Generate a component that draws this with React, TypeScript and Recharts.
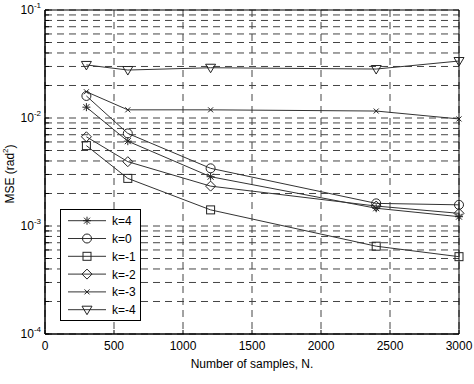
import React from "react";
import {
  LineChart,
  Line,
  XAxis,
  YAxis,
  CartesianGrid,
  Legend,
  ReferenceArea,
} from "recharts";

// sample sizes N
const samples = [300, 600, 1200, 2400, 3000];

// MSE (rad^2) per k
const mseK4 = [0.0126, 0.0061, 0.00286, 0.00146, 0.00122];
const mseK0 = [0.016, 0.0072, 0.00342, 0.00162, 0.00157];
const mseKm1 = [0.00555, 0.00276, 0.00141, 0.00065, 0.00052];
const mseKm2 = [0.0067, 0.00394, 0.00234, 0.00153, 0.00131];
const mseKm3 = [0.0175, 0.0119, 0.0119, 0.0116, 0.0098];
const mseKm4 = [0.031, 0.0278, 0.0292, 0.0284, 0.0337];

const xTicks = [0, 500, 1000, 1500, 2000, 2500, 3000];
const decades = [1e-4, 1e-3, 1e-2];
const mantissas = [1, 2, 3, 4, 5, 6, 7, 8, 9];
const yTicks = [...decades.flatMap((d) => mantissas.map((m) => m * d)), 1e-1];

const series = [
  { key: "k4", name: "k=4", shape: "star", values: mseK4 },
  { key: "k0", name: "k=0", shape: "circle", values: mseK0 },
  { key: "km1", name: "k=-1", shape: "square", values: mseKm1 },
  { key: "km2", name: "k=-2", shape: "diamond", values: mseKm2 },
  { key: "km3", name: "k=-3", shape: "cross", values: mseKm3 },
  { key: "km4", name: "k=-4", shape: "triangle", values: mseKm4 },
];

const rows = samples.map((n, i) => {
  const row: Record<string, number> = { n };
  series.forEach((s) => {
    row[s.key] = s.values[i];
  });
  return row;
});

const FONT = "'Liberation Sans', Arial, Helvetica, sans-serif";
const LINE = "#333";

const Marker = ({ shape, cx, cy }: { shape: string; cx: number; cy: number }) => {
  const p = { fill: "none", stroke: "#222", strokeWidth: 1 };
  switch (shape) {
    case "star":
      return (
        <g {...p}>
          <line x1={cx - 4} y1={cy} x2={cx + 4} y2={cy} />
          <line x1={cx} y1={cy - 4} x2={cx} y2={cy + 4} />
          <line x1={cx - 3} y1={cy - 3} x2={cx + 3} y2={cy + 3} />
          <line x1={cx - 3} y1={cy + 3} x2={cx + 3} y2={cy - 3} />
        </g>
      );
    case "circle":
      return <circle cx={cx} cy={cy} r={4.5} {...p} />;
    case "square":
      return <rect x={cx - 4} y={cy - 4} width={8} height={8} {...p} />;
    case "diamond":
      return (
        <polygon
          points={`${cx},${cy - 5} ${cx + 5},${cy} ${cx},${cy + 5} ${cx - 5},${cy}`}
          {...p}
        />
      );
    case "cross":
      return (
        <g {...p}>
          <line x1={cx - 2.5} y1={cy - 2.5} x2={cx + 2.5} y2={cy + 2.5} />
          <line x1={cx - 2.5} y1={cy + 2.5} x2={cx + 2.5} y2={cy - 2.5} />
        </g>
      );
    default:
      return (
        <polygon
          points={`${cx - 5},${cy - 3.5} ${cx + 5},${cy - 3.5} ${cx},${cy + 5}`}
          {...p}
        />
      );
  }
};

const YTick = (props: any) => {
  const { x, y, payload } = props;
  const lg = Math.log10(payload.value);
  if (Math.abs(lg - Math.round(lg)) > 1e-6) return null;
  return (
    <text x={x} y={y} dy={4} textAnchor="end" fontFamily={FONT} fontSize={12} fill="#000">
      <tspan>10</tspan>
      <tspan dy={-6} fontSize={8}>
        {Math.round(lg)}
      </tspan>
    </text>
  );
};

const YLabel = (props: any) => {
  const vb = props.viewBox || { x: 0, y: 10, height: 324 };
  const cx = 10;
  const cy = vb.y + vb.height / 2 + 2;
  return (
    <text
      x={cx}
      y={cy}
      transform={`rotate(-90, ${cx}, ${cy})`}
      textAnchor="middle"
      dominantBaseline="central"
      fontFamily={FONT}
      fontSize={12}
      fill="#000"
    >
      <tspan>MSE (rad</tspan>
      <tspan dy={-5} fontSize={8}>2</tspan>
      <tspan dy={5}>)</tspan>
    </text>
  );
};

const LegendBox = () => (
  <svg width={81} height={112} style={{ display: "block" }}>
    <rect x={0.5} y={0.5} width={80} height={111} fill="#fff" stroke="#000" />
    {series.map((s, i) => {
      const y = 11.7 + i * 17.8;
      return (
        <g key={s.key}>
          <line x1={8} y1={y} x2={46} y2={y} stroke={LINE} />
          <Marker shape={s.shape} cx={27} cy={y} />
          <text x={52} y={y + 4.5} fontFamily={FONT} fontSize={12} fill="#000">
            {s.name}
          </text>
        </g>
      );
    })}
  </svg>
);

export default function App() {
  return (
    <div style={{ position: "absolute", left: 0, top: 0, background: "#fff" }}>
      <LineChart
        width={474}
        height={384}
        data={rows}
        margin={{ top: 10, right: 15, bottom: 0, left: 0 }}
      >
        <CartesianGrid stroke="#444" strokeDasharray="7 5" />
        <XAxis
          dataKey="n"
          type="number"
          domain={[0, 3000]}
          ticks={xTicks}
          interval={0}
          height={50}
          tickLine={{ stroke: "#000" }}
          tickSize={-4}
          tickMargin={11}
          axisLine={{ stroke: "#000" }}
          tick={{ fontFamily: FONT, fontSize: 12, fill: "#000" }}
          label={{
            value: "Number of samples, N.",
            position: "insideBottom",
            offset: 16,
            fontFamily: FONT,
            fontSize: 12,
            fill: "#000",
          }}
        />
        <XAxis
          xAxisId="top"
          orientation="top"
          dataKey="n"
          type="number"
          domain={[0, 3000]}
          ticks={xTicks}
          interval={0}
          height={0}
          mirror
          tick={false}
          tickLine={{ stroke: "#000" }}
          tickSize={4}
          axisLine={{ stroke: "#000" }}
        />
        <YAxis
          type="number"
          scale="log"
          domain={[1e-4, 1e-1]}
          allowDataOverflow
          ticks={yTicks}
          interval={0}
          width={45}
          tickLine={{ stroke: "#000" }}
          tickSize={-4}
          tickMargin={8}
          axisLine={{ stroke: "#000" }}
          tick={<YTick />}
          label={<YLabel />}
        />
        <YAxis
          yAxisId="right"
          orientation="right"
          type="number"
          scale="log"
          domain={[1e-4, 1e-1]}
          allowDataOverflow
          ticks={yTicks}
          interval={0}
          width={0}
          mirror
          tick={false}
          tickLine={{ stroke: "#000" }}
          tickSize={4}
          axisLine={{ stroke: "#000" }}
        />
        <ReferenceArea
          x1={0}
          x2={3000}
          y1={1e-4}
          y2={1e-1}
          fill="none"
          stroke="#000"
          ifOverflow="visible"
        />
        {series.map((s) => (
          <Line
            key={s.key}
            dataKey={s.key}
            name={s.name}
            type="linear"
            stroke={LINE}
            strokeWidth={1}
            isAnimationActive={false}
            activeDot={false}
            dot={(props: any) => (
              <Marker key={`${s.key}-${props.index}`} shape={s.shape} cx={props.cx} cy={props.cy} />
            )}
          />
        ))}
        <Legend
          layout="vertical"
          align="center"
          verticalAlign="middle"
          content={() => <LegendBox />}
          wrapperStyle={{ left: 60, top: 209, width: 81, height: 112 }}
        />
      </LineChart>
    </div>
  );
}
